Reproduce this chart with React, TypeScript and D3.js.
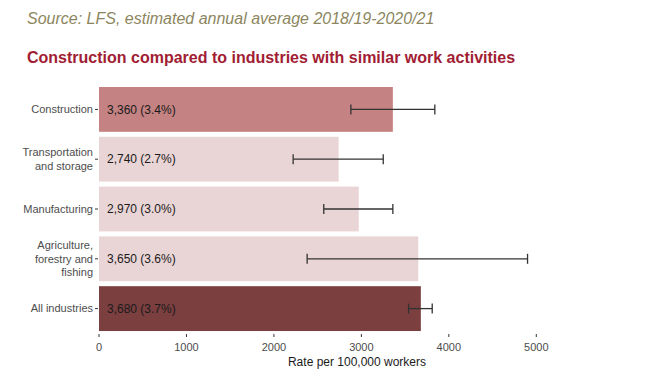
import * as d3 from 'd3';

const W = 671;
const H = 384;

// data
const industries = [
  'Construction',
  'Transportation and storage',
  'Manufacturing',
  'Agriculture, forestry and fishing',
  'All industries',
];
const labelLines = [
  ['Construction'],
  ['Transportation', 'and storage'],
  ['Manufacturing'],
  ['Agriculture,', 'forestry and', 'fishing'],
  ['All industries'],
];
const rates = [3360, 2740, 2970, 3650, 3680];
const percents = ['3.4%', '2.7%', '3.0%', '3.6%', '3.7%'];
const lower = [2880, 2220, 2570, 2380, 3540];
const upper = [3840, 3250, 3360, 4900, 3810];
const xTicks = [0, 1000, 2000, 3000, 4000, 5000];
const barColors = ['#c48283', '#ead5d6', '#ead5d6', '#ead5d6', '#7b3f40'];

export default function App() {
  const x = d3.scaleLinear().domain([0, 5900]).range([99, 615]);
  const y = d3
    .scaleBand()
    .domain(industries)
    .range([84.5, 333.5])
    .paddingInner(0.1)
    .paddingOuter(0.05);
  const bw = y.bandwidth();
  const fmt = d3.format(',');
  const font = '"Liberation Sans", Arial, sans-serif';

  return (
    <svg width={W} height={H} style={{ position: 'absolute', left: 0, top: 0, background: '#fff' }} fontFamily={font}>
      <text x={27} y={24} fontSize={16} fontStyle="italic" fill="#8c8660">
        Source: LFS, estimated annual average 2018/19-2020/21
      </text>
      <text x={27} y={63} fontSize={16} fontWeight="bold" fill="#a11d33">
        Construction compared to industries with similar work activities
      </text>

      {industries.map((d, i) => {
        const yc = (y(d) ?? 0) + bw / 2;
        return (
          <g key={d}>
            <rect x={x(0)} y={y(d)} width={x(rates[i]) - x(0)} height={bw} fill={barColors[i]} />
            <text x={107} y={yc} dy="0.35em" fontSize={12} fill="#1a1a1a">
              {`${fmt(rates[i])} (${percents[i]})`}
            </text>
            <g stroke="#333" strokeWidth={1.3}>
              <line x1={x(lower[i])} x2={x(upper[i])} y1={yc} y2={yc} />
              <line x1={x(lower[i])} x2={x(lower[i])} y1={yc - 5} y2={yc + 5} />
              <line x1={x(upper[i])} x2={x(upper[i])} y1={yc - 5} y2={yc + 5} />
            </g>
            <line x1={95} x2={98} y1={yc} y2={yc} stroke="#333" strokeWidth={1} />
            <text x={93} y={yc} fontSize={11} fill="#4d4d4d" textAnchor="end">
              {labelLines[i].map((l, j) => (
                <tspan key={j} x={93} dy={j === 0 ? `${0.35 - (labelLines[i].length - 1) * 0.6}em` : '1.2em'}>
                  {l}
                </tspan>
              ))}
            </text>
          </g>
        );
      })}

      {xTicks.map((t) => (
        <g key={t}>
          <line x1={x(t)} x2={x(t)} y1={334} y2={337} stroke="#333" strokeWidth={1} />
          <text x={x(t)} y={351} fontSize={11} fill="#4d4d4d" textAnchor="middle">
            {t}
          </text>
        </g>
      ))}
      <text x={(x.range()[0] + x.range()[1]) / 2} y={366} fontSize={12} fill="#1a1a1a" textAnchor="middle">
        Rate per 100,000 workers
      </text>
    </svg>
  );
}
